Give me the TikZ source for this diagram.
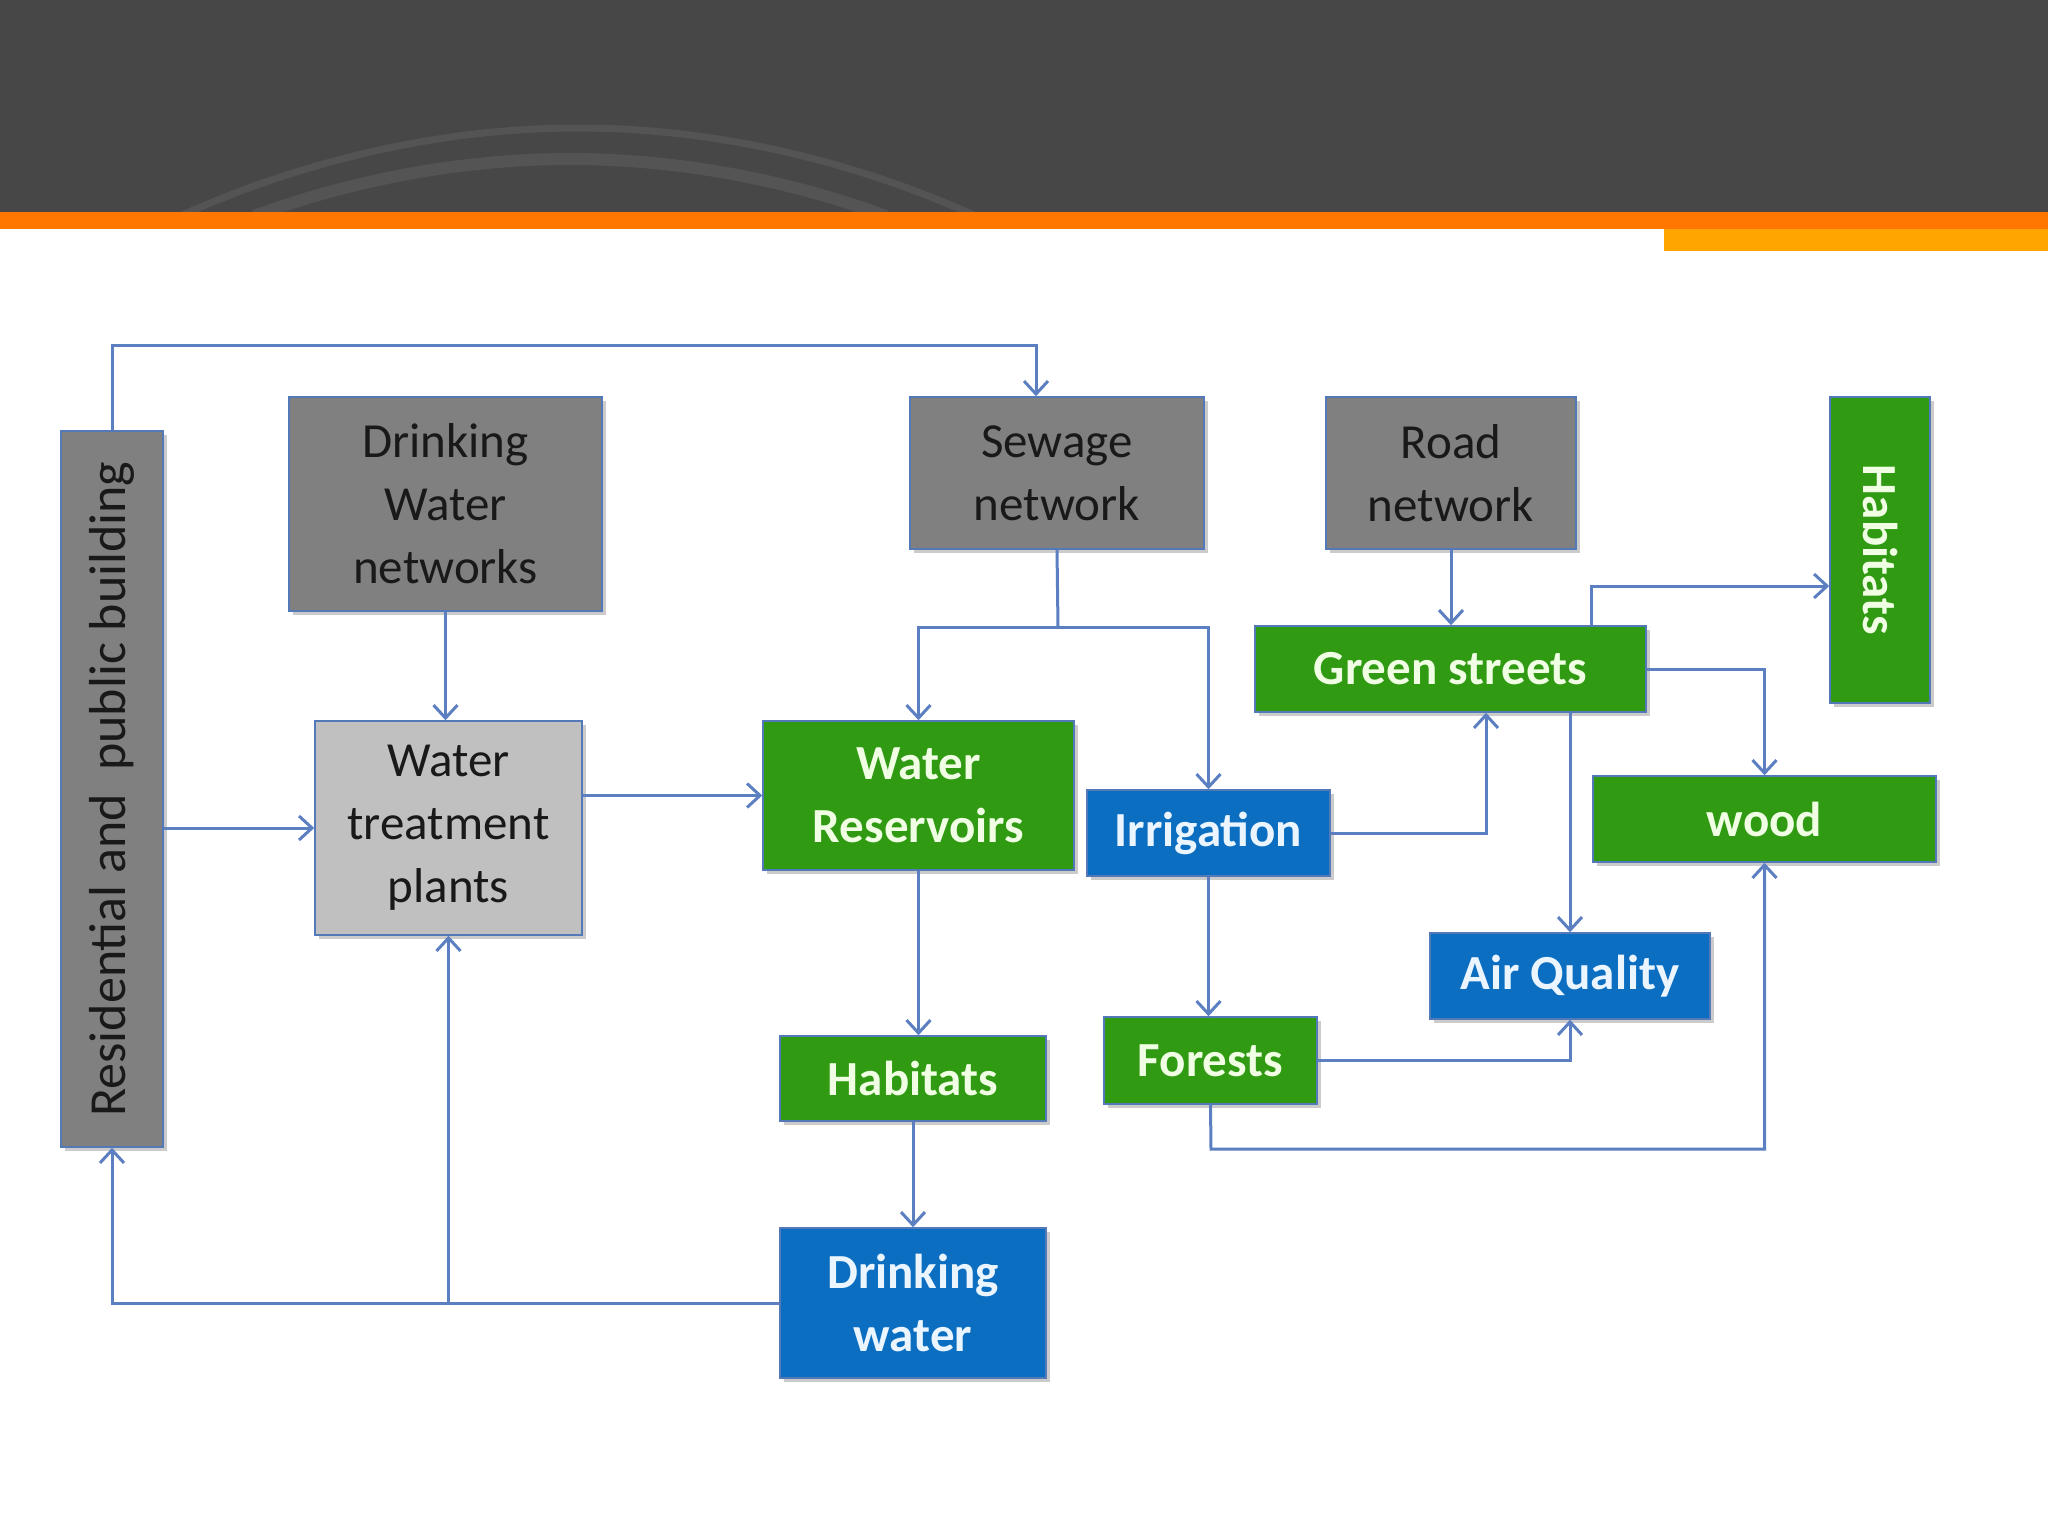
\documentclass[tikz,border=0pt]{standalone}
\usepackage{fontspec}
\setmainfont{Carlito}
\usetikzlibrary{arrows.meta,shadows}
\definecolor{hdr}{HTML}{474747}
\definecolor{arcc}{HTML}{545454}
\definecolor{orng}{HTML}{FF7600}
\definecolor{lorng}{HTML}{FFA500}
\definecolor{gdark}{HTML}{808080}
\definecolor{glight}{HTML}{C0C0C0}
\definecolor{grn}{HTML}{2F9A12}
\definecolor{blu}{HTML}{0B6EC0}
\definecolor{edge}{HTML}{5479B8}
\definecolor{conncol}{HTML}{5C7FC2}
\definecolor{gtext}{HTML}{F0FFE4}
\definecolor{btext}{HTML}{EAF5FF}
\tikzset{
  box/.style={draw=edge, line width=1.5pt, inner sep=0pt, align=center,
    font=\fontsize{49}{63}\selectfont,
    drop shadow={shadow xshift=4pt, shadow yshift=-4pt, fill=black!45, opacity=0.45}},
  grayd/.style={box, fill=gdark, text=black!90},
  grayl/.style={box, fill=glight, text=black!90},
  greenb/.style={box, fill=grn, text=gtext, font=\fontsize{49}{63}\selectfont\bfseries},
  blueb/.style={box, fill=blu, text=btext, font=\fontsize{49}{63}\selectfont\bfseries},
  conn/.style={draw=conncol, line width=3pt, -{Straight Barb[length=13pt,width=24pt,line width=3pt]}},
  plain/.style={draw=conncol, line width=3pt}
}
\begin{document}
\begin{tikzpicture}[x=1pt,y=-1pt]
\useasboundingbox (0,0) rectangle (2048,1536);
\fill[white] (0,0) rectangle (2048,1536);
% header
\fill[hdr] (0,0) rectangle (2048,212);
\begin{scope}
  \clip (0,0) rectangle (2048,212);
  \draw[arcc, line width=7pt] (180,216) parabola bend (578,128) (976,216);
  \draw[arcc, line width=12pt] (254,216) parabola bend (570,159) (886,216);
\end{scope}
\fill[orng] (0,212) rectangle (2048,229);
\fill[lorng] (1664,229) rectangle (2048,251);

% nodes
\node[grayd, minimum width=102, minimum height=716] (res) at (112,789)
  {\rotatebox{90}{\fontsize{52}{60}\selectfont Residential and\ \ public building}};
\node[grayd, minimum width=313, minimum height=214] (dwn) at (445.5,504) {Drinking\\Water\\networks};
\node[grayl, minimum width=267, minimum height=214] (wtp) at (448.5,828) {Water\\treatment\\plants};
\node[grayd, minimum width=294, minimum height=152] (sew) at (1057,473) {Sewage\\network};
\node[grayd, minimum width=250, minimum height=152] (road) at (1451,473) {Road\\network};
\node[greenb, minimum width=100, minimum height=306] (hab2) at (1880,550) {\rotatebox{-90}{Habitats}};
\node[greenb, minimum width=391, minimum height=86] (gs) at (1450.5,669) {Green streets};
\node[greenb, minimum width=311, minimum height=149] (wr) at (918.5,795.5) {Water\\Reservoirs};
\node[blueb, minimum width=243, minimum height=86] (irr) at (1208.5,833) {Irrigation};
\node[greenb, minimum width=343, minimum height=86] (wood) at (1764.5,819) {wood};
\node[blueb, minimum width=280, minimum height=86] (air) at (1570,976) {Air Quality};
\node[greenb, minimum width=213, minimum height=87] (for) at (1210.5,1060.5) {Forests};
\node[greenb, minimum width=266, minimum height=85] (hab1) at (913,1078.5) {Habitats};
\node[blueb, minimum width=266, minimum height=150] (dw) at (913,1303) {Drinking\\water};

% connectors
\coordinate (t1) at (1036,345);
\draw[conn] (res.north) |- (t1) -- (t1 |- sew.north);
\draw[conn] (dwn.south) -- (dwn.south |- wtp.north);
\draw[conn] (res.east |- wtp.west) -- (wtp.west);
\draw[conn] (wtp.east |- wr.west) -- (wr.west);
\coordinate (sj) at (1058,627);
\draw[plain] (sew.south) -- (sj);
\draw[conn] (sj) -| (wr.north);
\draw[conn] (sj) -| (irr.north);
\draw[conn] (road.south) -- (road.south |- gs.north);
\coordinate (h2) at (1591,586);
\draw[conn] (h2 |- gs.north) -- (h2) -- (h2 -| hab2.west);
\draw[conn] (gs.east) -| (wood.north);
\draw[conn] (air.north |- gs.south) -- (air.north);
\coordinate (ig) at (1486,833);
\draw[conn] (irr.east) -- (ig) -- (ig |- gs.south);
\draw[conn] (irr.south) -- (irr.south |- for.north);
\draw[conn] (for.east) -| (air.south);
\coordinate (fw) at (1211,1149);
\draw[conn] (for.south) -- (fw) -| (wood.south);
\draw[conn] (wr.south) -- (wr.south |- hab1.north);
\draw[conn] (hab1.south) -- (dw.north);
\draw[conn] (dw.west) -| (res.south);
\draw[conn] (wtp.south |- dw.west) -- (wtp.south);
\end{tikzpicture}
\end{document}
